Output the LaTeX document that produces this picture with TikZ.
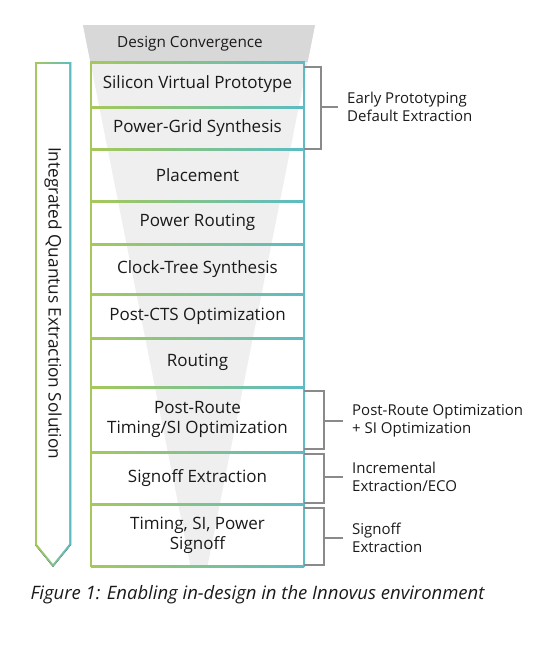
\documentclass[tikz,border=0pt]{standalone}
\usepackage{fontspec}
\setmainfont{Open Sans}
\definecolor{leafgreen}{HTML}{A6C85A}
\definecolor{tealblue}{HTML}{5BBCC4}
\definecolor{funnelgray}{HTML}{D8D8D8}
\definecolor{funnellight}{HTML}{EFEFEF}
\definecolor{bracketgray}{HTML}{8A8A8A}
\definecolor{inkgray}{HTML}{1A1A1A}

\begin{document}
\begin{tikzpicture}[
  x=1pt, y=-1pt,
  stage/.style={font=\fontsize{17}{20}\selectfont, align=center, text=inkgray, inner sep=0pt},
  note/.style={font=\fontsize{15}{18}\selectfont, align=left, anchor=west, text=inkgray, inner sep=0pt},
  bracket/.style={draw=bracketgray, line width=1.6pt},
  rowline/.style={left color=leafgreen, right color=tealblue}
]
\useasboundingbox (0,0) rectangle (545,649);

% funnel behind the stages
\begin{scope}
  \clip (0,25) rectangle (545,566);
  \fill[funnellight] (83,25) -- (315,25) -- (199,609) -- cycle;
  \fill[funnelgray] (83,25) -- (315,25) -- (307.7,62) -- (90.3,62) -- cycle;
\end{scope}
\node[font=\fontsize{15.3}{18}\selectfont, text=inkgray] (convergence) at (190,44) {Design Convergence};

% stage rows
\fill[leafgreen] (90,61) rectangle (92,567);
\fill[tealblue] (303,61) rectangle (305,567);
\foreach \y in {62,107,149,201,244,294,338,387,452,504,566}
  \shade[rowline] (91,\y-1) rectangle (304,\y+1);
\foreach \top/\bot/\name/\label in {
    62/107/svp/{Silicon Virtual Prototype},
    107/149/pgs/{Power-Grid Synthesis},
    149/201/place/{Placement},
    201/244/prt/{Power Routing},
    244/294/cts/{Clock-Tree Synthesis},
    294/338/pcts/{Post-CTS Optimization},
    338/387/route/{Routing},
    387/452/proute/{Post-Route\\Timing/SI Optimization},
    452/504/sox/{Signoff Extraction},
    504/566/signoff/{Timing, SI, Power\\Signoff}}
  \node[stage] (\name) at (197.5,{(\top+\bot)/2}) {\label};

% extraction arrow
\fill[left color=leafgreen, right color=tealblue]
  (35,62) -- (71,62) -- (71,545) -- (53,567) -- (35,545) -- cycle;
\fill[white] (37,64) -- (69,64) -- (69,544) -- (53,563.8) -- (37,544) -- cycle;
\node[rotate=-90, font=\fontsize{17.2}{20}\selectfont, text=inkgray] (iqes) at (53,303)
  {Integrated Quantus Extraction Solution};

% brackets and notes
\foreach \i/\top/\bot/\bx/\tick/\lx/\txt in {
    1/67/149/321/107/347/{Early Prototyping\\Default Extraction},
    2/391/449/324/421/352/{Post-Route Optimization\\+ SI Optimization},
    3/454/503/324/477/352/{Incremental\\Extraction/ECO},
    4/508/565/324/538/352/{Signoff\\Extraction}} {
  \node[note] (note\i) at (\lx,\tick) {\txt};
  \coordinate (top\i) at (304,\top);
  \coordinate (bot\i) at (304,\bot);
  \coordinate (mid\i) at (\bx,\tick);
  \draw[bracket] (top\i) -| (mid\i) |- (bot\i);
  \draw[bracket] (mid\i) -- ([xshift=-9pt]note\i.west);
}

\node[font=\itshape\fontsize{18.5}{22}\selectfont, text=inkgray, anchor=west] (caption) at (27,595)
  {Figure 1: Enabling in-design in the Innovus environment};
\end{tikzpicture}
\end{document}
